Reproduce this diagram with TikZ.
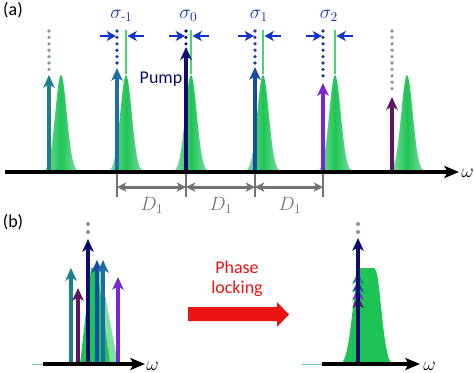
\documentclass[tikz,border=0pt]{standalone}
\usepackage{amsmath}
\usepackage{fontspec}
\setmainfont{Carlito}
\usetikzlibrary{arrows.meta,calc}
\definecolor{tealA}{RGB}{26,128,140}
\definecolor{tealB}{RGB}{30,110,165}
\definecolor{navyA}{RGB}{12,12,110}
\definecolor{blueA}{RGB}{25,75,165}
\definecolor{purpA}{RGB}{120,40,210}
\definecolor{dpurpA}{RGB}{95,20,100}
\definecolor{pk}{RGB}{30,195,85}
\definecolor{pkline}{RGB}{70,215,110}
\definecolor{sig}{RGB}{20,50,200}
\definecolor{dotgray}{RGB}{130,145,165}
\definecolor{dimgray}{RGB}{115,115,115}
\definecolor{redA}{RGB}{235,20,20}
\definecolor{thinaxis}{RGB}{110,200,180}
\begin{document}
\begin{tikzpicture}[x=0.75pt,y=-0.75pt,
  combarrow/.style={line width=2.8pt,-{Stealth[length=9.5pt,width=8.5pt,inset=2.5pt]}},
  headonly/.style={line width=1.5pt,-{Stealth[length=9pt,width=8.5pt,inset=2.5pt]}},
  dotline/.style={line width=2.7pt,dash pattern=on 0pt off 4.8pt,line cap=round},
  axisline/.style={line width=3.2pt,-{Stealth[length=11pt,width=9pt,inset=2.5pt]}},
  sigarrow/.style={sig,line width=2.2pt,-{Stealth[length=7pt,width=7.5pt,inset=2pt]}},
  dimline/.style={dimgray,line width=2pt},
  dimarrow/.style={dimgray,line width=2.2pt,{Stealth[length=7pt,width=7pt,inset=2pt]}-{Stealth[length=7pt,width=7pt,inset=2pt]}},
  peakline/.style={pkline,line width=1.6pt},
  lbl/.style={font=\fontsize{13.5}{16}\selectfont,inner sep=0pt},
  mathlbl/.style={font=\fontsize{14}{16}\selectfont,inner sep=0pt},
]
\useasboundingbox (0,0) rectangle (474,372);

% ---------------- panel (a) ----------------
\node[lbl] (la) at (13,10) {(a)};

% green peaks
\foreach \c/\n in {61/p1,126/p2,191/p3,263/p4,335/p5,407/p6}{
  \shade[left color=pk!50,right color=pk!50,middle color=pk]
    (\c-19,172) -- plot[variable=\t,domain=-19:19,samples=41]
    ({\c+\t},{172-97*exp(-((\t)*(\t))/66)}) -- cycle;
  \coordinate (\n) at (\c,75);
}
% thin green lines above peaks
\foreach \c in {126,191,263,335}{
  \draw[peakline] (\c,30) -- (\c,74);
}

% dotted extensions
\draw[dotline,dotgray] (49,31) -- (49,71);
\draw[dotline,blueA!80!navyA] (117,31) -- (117,64);
\draw[dotline,navyA] (186,31) -- (186,44);
\draw[dotline,blueA!80!navyA] (255,31) -- (255,63);
\draw[dotline,navyA!70!dotgray] (323,31) -- (323,79);
\draw[dotline,dotgray] (392,31) -- (392,93);

% comb lines
\foreach \x/\tip/\col/\n in {49/75/tealA/c1,117/68/tealB/c2,255/67/blueA/c4,323/83/purpA/c5,392/97/dpurpA/c6,186/47/navyA/c3}{
  \coordinate (\n b) at (\x,172);
  \coordinate (\n t) at (\x,\tip);
  \draw[combarrow,\col] (\n b) -- (\n t);
}

% frequency axis
\coordinate (axa0) at (5,172);
\coordinate (axa1) at (459,172);
\draw[axisline] (axa0) -- (axa1);
\node[mathlbl,anchor=west] (wa) at (461,173) {$\omega$};

% sigma markers
\foreach \a/\p/\s/\n in {117/126/{\text{-}1}/s1,186/191/0/s2,255/263/1/s3,323/335/2/s4}{
  \coordinate (\n L0) at (\a-17,36);
  \coordinate (\n L1) at (\a-1,36);
  \coordinate (\n R0) at (\p+18,36);
  \coordinate (\n R1) at (\p+1.5,36);
  \draw[sigarrow] (\n L0) -- (\n L1);
  \draw[sigarrow] (\n R0) -- (\n R1);
  \node[mathlbl,text=sig] (\n lab) at ({(\a+\p)/2},16) {$\sigma_{\s}$};
}

\node[lbl,text=navyA] (pump) at (161,79) {Pump};

% D1 dimensions
\foreach \x/\n in {117/t1,186/t2,255/t3,323/t4}{
  \coordinate (\n a) at (\x,174);
  \coordinate (\n b) at (\x,197);
  \draw[dimline] (\n a) -- (\n b);
}
\foreach \a/\b/\n in {t1/t2/d1,t2/t3/d2,t3/t4/d3}{
  \draw[dimarrow] ($(\a a)!0.57!(\a b)$) -- ($(\b a)!0.57!(\b b)$);
}
\node[mathlbl,text=dimgray] (D1) at (152,205) {$D_1$};
\node[mathlbl,text=dimgray] (D2) at (221,205) {$D_1$};
\node[mathlbl,text=dimgray] (D3) at (290,205) {$D_1$};

% ---------------- panel (b) ----------------
\node[lbl] (lb) at (13,222) {(b)};

% left spectrum
\fill[pk!55] (84,364) -- (96,268) -- (100,268) -- (118,364) -- cycle;
\fill[pk] (80,364) -- (91,268) -- (97,268) -- (110,364) -- cycle;
\draw[thinaxis,line width=0.7pt] (32,364) -- (44,364);
\foreach \x/\tip/\col/\n in {71/268/tealA/b1,78/288/dpurpA/b2,97/260/blueA/b4,103/260/tealB/b5,118/277/purpA/b6,88/239/navyA/b3}{
  \coordinate (\n b) at (\x,364);
  \coordinate (\n t) at (\x,\tip);
  \draw[combarrow,\col] (\n b) -- (\n t);
}
\fill[dotgray] (88,224) circle (2);
\fill[dotgray] (88,232) circle (2);
\coordinate (axb0) at (43,364);
\coordinate (axb1) at (145,364);
\draw[axisline] (axb0) -- (axb1);
\node[mathlbl,anchor=west] (wb) at (146,366) {$\omega$};

% phase locking arrow
\node[lbl,text=redA,align=center] (phase) at (237,279) {Phase\\[-1pt]locking};
\fill[redA] (188,307) -- (277,307) -- (277,302) -- (289,314.5) -- (277,327) -- (277,321) -- (188,321) -- cycle;

% right spectrum
\fill[pk] (340,364) .. controls (352,363) and (353,268) .. (361,268)
  -- (374,268) .. controls (381,268) and (382,363) .. (393,364) -- cycle;
\draw[thinaxis,line width=0.7pt] (302,364) -- (324,364);
\coordinate (r0) at (358,364);
\foreach \y/\col in {296/dpurpA,288/purpA,280/blueA,272/tealA}{
  \draw[headonly,\col] (358,\y+6) -- (358,\y);
}
\coordinate (rt) at (358,238);
\draw[combarrow,navyA] (r0) -- (rt);
\fill[dotgray] (358,224) circle (2);
\fill[dotgray] (358,232) circle (2);
\coordinate (axc0) at (322,364);
\coordinate (axc1) at (420,364);
\draw[axisline] (axc0) -- (axc1);
\node[mathlbl,anchor=west] (wc) at (423,366) {$\omega$};
\end{tikzpicture}
\end{document}
